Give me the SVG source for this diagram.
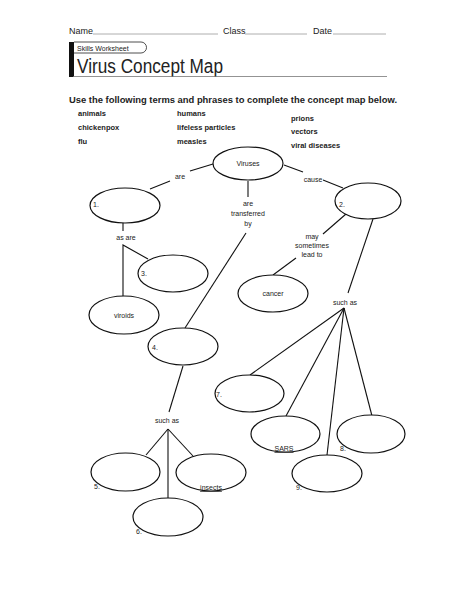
<svg xmlns="http://www.w3.org/2000/svg" width="455" height="600" viewBox="0 0 455 600">
<style>
text{font-family:"Liberation Sans",Arial,sans-serif;fill:#222}
.hdr{font-size:9px}
.lbl{font-size:7px;text-anchor:middle}
.num{font-size:7px}
.term{font-size:7.5px;font-weight:bold}
.node ellipse{fill:#fff;stroke:#111;stroke-width:1.2}
#connectors line,#connectors polyline{stroke:#111;stroke-width:1.1;fill:none}
.rule{stroke:#999;stroke-width:0.8}
</style>
<rect width="455" height="600" fill="#fff"/>
<!-- header -->
<text class="hdr" x="69" y="34">Name</text>
<line class="rule" x1="93" y1="34" x2="218" y2="34"/>
<text class="hdr" x="223" y="34">Class</text>
<line class="rule" x1="245" y1="34" x2="307" y2="34"/>
<text class="hdr" x="313" y="34">Date</text>
<line class="rule" x1="333" y1="34" x2="386" y2="34"/>
<rect x="69" y="42" width="5" height="35" fill="#111"/>
<path d="M74,42 H141 A5.5,5.5 0 0 1 141,53 H74" fill="none" stroke="#222" stroke-width="0.8"/>
<text x="77" y="50.5" style="font-size:7px">Skills Worksheet</text>
<text x="77" y="73" style="font-size:20px" textLength="146" lengthAdjust="spacingAndGlyphs">Virus Concept Map</text>
<line x1="73" y1="76.5" x2="387" y2="76.5" stroke="#777" stroke-width="0.8"/>
<text x="69" y="103" style="font-size:9px;font-weight:bold" textLength="328" lengthAdjust="spacingAndGlyphs">Use the following terms and phrases to complete the concept map below.</text>
<g id="terms">
<text class="term" x="78" y="116">animals</text>
<text class="term" x="78" y="130">chickenpox</text>
<text class="term" x="78" y="144">flu</text>
<text class="term" x="177" y="116">humans</text>
<text class="term" x="177" y="130">lifeless particles</text>
<text class="term" x="177" y="144">measles</text>
<text class="term" x="291" y="121">prions</text>
<text class="term" x="291" y="134">vectors</text>
<text class="term" x="291" y="148">viral diseases</text>
</g>
<!-- connectors -->
<g id="connectors">
<line x1="213" y1="164" x2="190" y2="171"/>
<line x1="170" y1="181" x2="150" y2="189"/>
<line x1="248" y1="181" x2="248" y2="197"/>
<line x1="284" y1="165" x2="303" y2="172"/>
<line x1="323" y1="180" x2="343" y2="188"/>
<line x1="123" y1="223" x2="123" y2="231"/>
<polyline points="148,259 123,245 123,297"/>
<line x1="246" y1="233" x2="185" y2="328"/>
<line x1="346" y1="214" x2="323" y2="234"/>
<line x1="296" y1="258" x2="273" y2="275"/>
<line x1="373" y1="219" x2="348" y2="293"/>
<line x1="344" y1="308" x2="250" y2="375"/>
<line x1="344" y1="308" x2="286" y2="416"/>
<line x1="344" y1="308" x2="327" y2="455"/>
<line x1="344" y1="308" x2="372" y2="416"/>
<line x1="183" y1="366" x2="169" y2="412"/>
<line x1="168" y1="429" x2="146" y2="455"/>
<line x1="168" y1="429" x2="168" y2="498"/>
<line x1="168" y1="429" x2="193" y2="456"/>
</g>
<!-- connector labels -->
<g id="labels">
<text class="lbl" x="180" y="179">are</text>
<text class="lbl" x="248" y="206">are</text>
<text class="lbl" x="248" y="216">transferred</text>
<text class="lbl" x="248" y="226">by</text>
<text class="lbl" x="313" y="182">cause</text>
<text class="lbl" x="126" y="240">as are</text>
<text class="lbl" x="312" y="239">may</text>
<text class="lbl" x="312" y="248">sometimes</text>
<text class="lbl" x="312" y="257">lead to</text>
<text class="lbl" x="345" y="305">such as</text>
<text class="lbl" x="167" y="423">such as</text>
</g>
<!-- nodes -->
<g id="viruses" class="node"><ellipse cx="248" cy="163.5" rx="35" ry="16.5"/><text class="lbl" x="248" y="166">Viruses</text></g>
<g id="n1" class="node"><ellipse cx="125" cy="205.5" rx="35" ry="17.5"/><text class="num" x="93" y="207">1.</text></g>
<g id="n2" class="node"><ellipse cx="368" cy="201" rx="33" ry="18"/><text class="num" x="339" y="207">2.</text></g>
<g id="n3" class="node"><ellipse cx="173" cy="273.5" rx="35" ry="18.5"/><text class="num" x="141" y="276">3.</text></g>
<g id="viroids" class="node"><ellipse cx="124" cy="315" rx="35" ry="19"/><text class="lbl" x="124" y="318">viroids</text></g>
<g id="cancer" class="node"><ellipse cx="273" cy="293.5" rx="35" ry="18.5"/><text class="lbl" x="273" y="296">cancer</text></g>
<g id="n4" class="node"><ellipse cx="183" cy="346.5" rx="35" ry="18.5"/><text class="num" x="152" y="350">4.</text></g>
<g id="n7" class="node"><ellipse cx="249.5" cy="393.5" rx="34.5" ry="18.5"/><text class="num" x="216" y="397">7.</text></g>
<g id="sars" class="node"><ellipse cx="285.5" cy="434" rx="34.5" ry="18"/><text class="lbl" x="284" y="451" text-decoration="underline">SARS</text></g>
<g id="n8" class="node"><ellipse cx="371" cy="434" rx="34" ry="19"/><text class="num" x="340" y="451">8.</text></g>
<g id="n9" class="node"><ellipse cx="327" cy="473.5" rx="35" ry="18.5"/><text class="num" x="296" y="490">9.</text></g>
<g id="n5" class="node"><ellipse cx="125.5" cy="472" rx="34.5" ry="19"/><text class="num" x="94" y="489">5.</text></g>
<g id="insects" class="node"><ellipse cx="211" cy="472.5" rx="35" ry="18.5"/><text class="lbl" x="211" y="490" text-decoration="underline">insects</text></g>
<g id="n6" class="node"><ellipse cx="168" cy="517" rx="35" ry="19"/><text class="num" x="136" y="534">6.</text></g>
</svg>
